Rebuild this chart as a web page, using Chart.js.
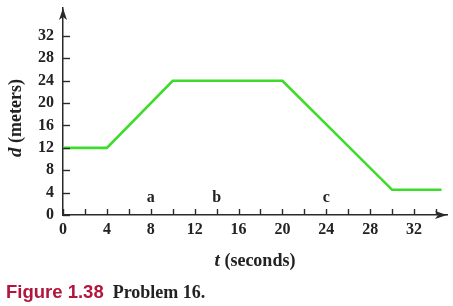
<!DOCTYPE html>
<html>
<head>
<meta charset="utf-8">
<script src="https://cdn.jsdelivr.net/npm/chart.js@4/dist/chart.umd.min.js"></script>
<style>
  html, body { margin: 0; padding: 0; background: #fff; }
  #wrap { position: relative; width: 453px; height: 306px; }
  #caption {
    position: absolute; left: 6px; top: 281px;
    white-space: nowrap;
  }
  #caption .fig { font: bold 18.5px "Liberation Sans", Arial, sans-serif; color: #b3163c; }
  #caption .prob { font: bold 18px "Liberation Serif", serif; color: #222; margin-left: 9px; }
</style>
</head>
<body>
<div id="wrap">
  <canvas id="chart" width="453" height="306"></canvas>
  <div id="caption"><span class="fig">Figure 1.38</span><span class="prob">Problem 16.</span></div>
</div>
<script>
// distance vs time
const times = [0, 4, 10, 20, 30, 34.5];
const distances = [12, 12, 24, 24, 4.5, 4.5];

// axis ticks
const xTicks = [0, 2, 4, 6, 8, 10, 12, 14, 16, 18, 20, 22, 24, 26, 28, 30, 32, 34];
const xLabels = [0, 4, 8, 12, 16, 20, 24, 28, 32];
const yTicks = [0, 4, 8, 12, 16, 20, 24, 28, 32];

// letter marks above the time axis
const markLetters = ['a', 'b', 'c'];
const markTimes = [8, 14, 24];

const tickFont = { family: 'Liberation Serif', size: 16, weight: 'bold' };
const axisColor = '#2a2a2a';

// draws inward tick marks, arrowheads, letters and axis titles
const axisExtras = {
  id: 'axisExtras',
  afterDraw(chart) {
    const { ctx, chartArea: a, scales: { x, y } } = chart;
    ctx.save();
    ctx.strokeStyle = axisColor;
    ctx.fillStyle = axisColor;
    ctx.lineWidth = 1.4;

    // tick marks point into the plot
    xTicks.forEach(v => {
      const px = Math.round(x.getPixelForValue(v)) + 0.5;
      ctx.beginPath();
      ctx.moveTo(px, a.bottom);
      ctx.lineTo(px, a.bottom - 6);
      ctx.stroke();
    });
    yTicks.forEach(v => {
      const py = Math.round(y.getPixelForValue(v)) + 0.5;
      ctx.beginPath();
      ctx.moveTo(a.left, py);
      ctx.lineTo(a.left + 7, py);
      ctx.stroke();
    });

    // arrowheads
    ctx.beginPath();
    ctx.moveTo(a.left, a.top);
    ctx.lineTo(a.left - 4, a.top + 12);
    ctx.lineTo(a.left, a.top + 9);
    ctx.lineTo(a.left + 4, a.top + 12);
    ctx.closePath();
    ctx.fill();
    ctx.beginPath();
    ctx.moveTo(a.right, a.bottom);
    ctx.lineTo(a.right - 12, a.bottom - 4);
    ctx.lineTo(a.right - 9, a.bottom);
    ctx.lineTo(a.right - 12, a.bottom + 4);
    ctx.closePath();
    ctx.fill();

    // letters
    ctx.fillStyle = '#222';
    ctx.font = 'bold 16px "Liberation Serif"';
    ctx.textAlign = 'center';
    ctx.textBaseline = 'alphabetic';
    markLetters.forEach((s, i) => {
      ctx.fillText(s, x.getPixelForValue(markTimes[i]), a.bottom - 13);
    });

    // axis titles
    const italic = 'italic bold 19px "Liberation Serif"';
    const plain = 'bold 18px "Liberation Serif"';
    ctx.textAlign = 'left';
    ctx.font = italic;
    const tW = ctx.measureText('t').width;
    ctx.font = plain;
    const sW = ctx.measureText(' (seconds)').width;
    let sx = (a.left + a.right) / 2 - (tW + sW) / 2;
    ctx.font = italic;
    ctx.fillText('t', sx, 266);
    ctx.font = plain;
    ctx.fillText(' (seconds)', sx + tW, 266);

    ctx.translate(21, 118);
    ctx.rotate(-Math.PI / 2);
    ctx.font = italic;
    const dW = ctx.measureText('d').width;
    ctx.font = plain;
    const mW = ctx.measureText(' (meters)').width;
    sx = -(dW + mW) / 2;
    ctx.font = italic;
    ctx.fillText('d', sx, 0);
    ctx.font = plain;
    ctx.fillText(' (meters)', sx + dW, 0);
    ctx.restore();
  }
};

new Chart(document.getElementById('chart'), {
  type: 'line',
  data: {
    datasets: [{
      data: times.map((t, i) => ({ x: t, y: distances[i] })),
      borderColor: '#3ddc2a',
      borderWidth: 2.6,
      pointRadius: 0,
      tension: 0,
      fill: false
    }]
  },
  options: {
    responsive: false,
    animation: false,
    layout: { padding: { left: 0, top: 8, right: 6, bottom: 0 } },
    plugins: { legend: { display: false }, tooltip: { enabled: false } },
    scales: {
      x: {
        type: 'linear',
        min: 0,
        max: 35,
        afterBuildTicks: s => { s.ticks = xTicks.map(v => ({ value: v })); },
        afterFit: s => { s.height = 91; s.paddingLeft = 0; s.paddingRight = 0; },
        grid: { display: false, drawTicks: false },
        border: { display: true, color: axisColor, width: 1.5 },
        ticks: {
          color: '#222',
          font: tickFont,
          padding: 5,
          maxRotation: 0,
          autoSkip: false,
          callback: v => (xLabels.includes(v) ? String(v) : '')
        }
      },
      y: {
        min: 0,
        max: 37,
        afterBuildTicks: s => { s.ticks = yTicks.map(v => ({ value: v })); },
        afterFit: s => { s.width = 63; s.paddingTop = 0; s.paddingBottom = 0; },
        grid: { display: false, drawTicks: false },
        border: { display: true, color: axisColor, width: 1.5 },
        ticks: {
          color: '#222',
          font: tickFont,
          padding: 9,
          autoSkip: false,
          callback: v => String(v)
        }
      }
    }
  },
  plugins: [axisExtras]
});
</script>
</body>
</html>
